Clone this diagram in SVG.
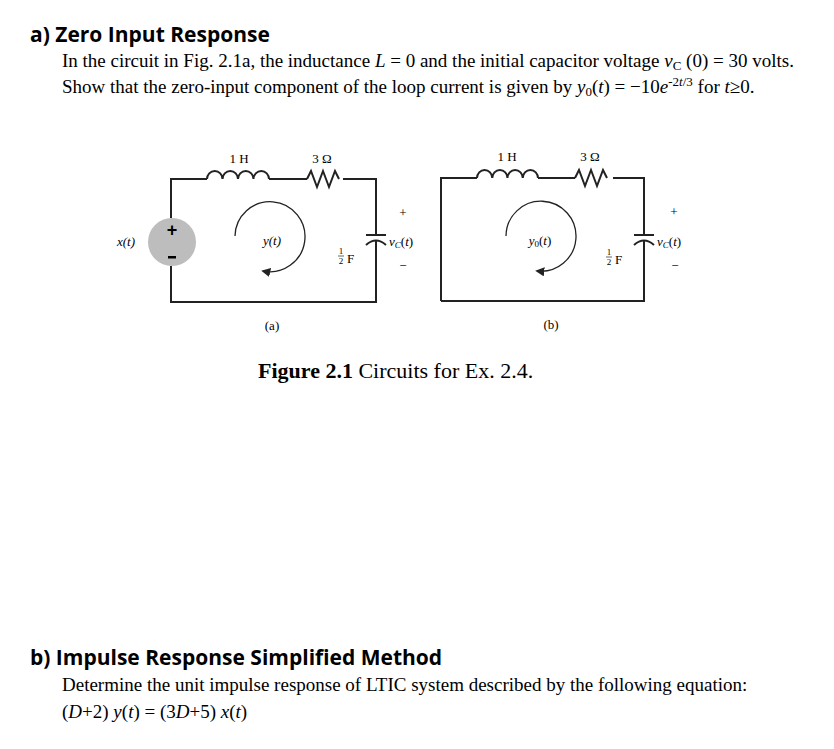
<svg xmlns="http://www.w3.org/2000/svg" width="834" height="749" viewBox="0 0 834 749">
<defs>
<style>
.h{font-family:"Open Sans","Liberation Sans",sans-serif;font-weight:bold;font-size:21px;fill:#000}
.b{font-family:"Liberation Serif",serif;font-size:19px;fill:#000}
.s{font-family:"Liberation Serif",serif;font-size:13px;fill:#000}
.w{fill:none;stroke:#222;stroke-width:2}
.l{fill:none;stroke:#222;stroke-width:1.3}
</style>
<marker id="ah" viewBox="0 0 10 10" refX="8" refY="5" markerWidth="7" markerHeight="7" orient="auto"><path d="M0,0L10,5L0,10z" fill="#222"/></marker>
</defs>
<rect width="834" height="749" fill="#fff"/>
<text class="h" x="30" y="42">a) Zero Input Response</text>
<text class="b" x="62" y="67">In the circuit in Fig. 2.1a, the inductance <tspan font-style="italic">L</tspan> = 0 and the initial capacitor voltage <tspan font-style="italic">v</tspan><tspan font-size="13" dy="3">C</tspan><tspan dy="-3"> (0) = 30 volts.</tspan></text>
<text class="b" x="62" y="93">Show that the zero-input component of the loop current is given by <tspan font-style="italic">y</tspan><tspan font-size="13" dy="3">0</tspan><tspan dy="-3">(</tspan><tspan font-style="italic">t</tspan>) = −10<tspan font-style="italic">e</tspan><tspan font-size="13" dy="-7">-2<tspan font-style="italic">t</tspan>/3</tspan><tspan dy="7"> for </tspan><tspan font-style="italic">t</tspan>≥0.</text>

<g id="circuitA">
<path class="w" d="M171,218V179H207M269,179H307M343,179H376V235M376,241V302H171V266"/>
<path class="w" d="M207,179a7.75,8 0 0 1 15.5,0a7.75,8 0 0 1 15.5,0a7.75,8 0 0 1 15.5,0a7.75,8 0 0 1 15.5,0"/>
<path class="w" d="M307,179l4,-8l6,16l6,-16l6,16l6,-16l4,8"/>
<path class="w" d="M366,235H386M366,245Q376,236 386,245"/>
<circle cx="172" cy="242" r="24" fill="#bdbdbd"/>
<text x="172" y="236" text-anchor="middle" font-family="Liberation Sans,sans-serif" font-weight="bold" font-size="18">+</text>
<rect x="168" y="256" width="8" height="2.5" fill="#000"/>
<path class="l" d="M235,236A35,35 0 1 1 263,271" marker-end="url(#ah)"/>
<text class="s" x="135" y="246" text-anchor="end" font-style="italic">x(t)</text>
<text class="s" x="272" y="245" text-anchor="middle" font-style="italic">y(t)</text>
<text class="s" x="239" y="163" text-anchor="middle">1 H</text>
<text class="s" x="322" y="163" text-anchor="middle">3 Ω</text>
<text class="s" x="403" y="217" text-anchor="middle">+</text>
<text class="s" x="403" y="270" text-anchor="middle">−</text>
<text class="s" x="389" y="246" font-style="italic">v<tspan font-size="9" dy="2">C</tspan><tspan dy="-2" font-style="normal">(</tspan>t<tspan font-style="normal">)</tspan></text>
<text x="341" y="254" text-anchor="middle" font-family="Liberation Serif,serif" font-size="9">1</text>
<line x1="338" y1="256" x2="344" y2="256" stroke="#222" stroke-width="0.7"/>
<text x="341" y="264" text-anchor="middle" font-family="Liberation Serif,serif" font-size="9">2</text>
<text class="s" x="347" y="263">F</text>
<text class="s" x="272" y="330" text-anchor="middle">(a)</text>
</g>

<g id="circuitB">
<path class="w" d="M441,301V178H477M538,178H575M613,178H644V235M644,241V301H441"/>
<path class="w" d="M477,178a7.6,8 0 0 1 15.25,0a7.6,8 0 0 1 15.25,0a7.6,8 0 0 1 15.25,0a7.6,8 0 0 1 15.25,0"/>
<path class="w" d="M575,178l4,-8l6,16l6,-16l6,16l6,-16l4,8"/>
<path class="w" d="M634,235H654M634,245Q644,236 654,245"/>
<path class="l" d="M506,236A35,35 0 1 1 537,271" marker-end="url(#ah)"/>
<text class="s" x="540" y="245" text-anchor="middle" font-style="italic">y<tspan font-size="9" dy="2" font-style="normal">0</tspan><tspan dy="-2" font-style="normal">(</tspan>t<tspan font-style="normal">)</tspan></text>
<text class="s" x="507" y="161" text-anchor="middle">1 H</text>
<text class="s" x="590" y="161" text-anchor="middle">3 Ω</text>
<text class="s" x="674" y="216" text-anchor="middle">+</text>
<text class="s" x="675" y="270" text-anchor="middle">−</text>
<text class="s" x="657" y="246" font-style="italic">v<tspan font-size="9" dy="2">C</tspan><tspan dy="-2" font-style="normal">(</tspan>t<tspan font-style="normal">)</tspan></text>
<text x="609" y="255" text-anchor="middle" font-family="Liberation Serif,serif" font-size="9">1</text>
<line x1="606" y1="257" x2="612" y2="257" stroke="#222" stroke-width="0.7"/>
<text x="609" y="265" text-anchor="middle" font-family="Liberation Serif,serif" font-size="9">2</text>
<text class="s" x="615" y="264">F</text>
<text class="s" x="551" y="329" text-anchor="middle">(b)</text>
</g>

<text x="258" y="378" font-family="Liberation Serif,serif" font-size="22"><tspan font-weight="bold">Figure 2.1</tspan>  Circuits for Ex. 2.4.</text>

<text class="h" x="30" y="665">b) Impulse Response Simplified Method</text>
<text class="b" x="62" y="691">Determine the unit impulse response of LTIC system described by the following equation:</text>
<text class="b" x="62" y="718">(<tspan font-style="italic">D</tspan>+2) <tspan font-style="italic">y</tspan>(<tspan font-style="italic">t</tspan>) = (3<tspan font-style="italic">D</tspan>+5) <tspan font-style="italic">x</tspan>(<tspan font-style="italic">t</tspan>)</text>
</svg>
